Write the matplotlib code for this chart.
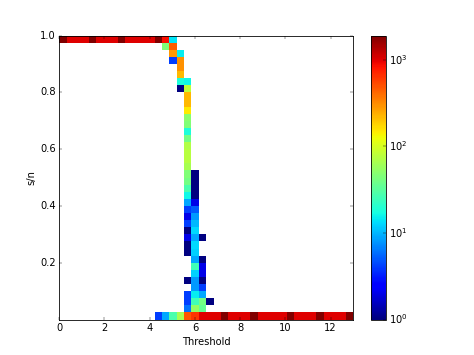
import numpy as np
import matplotlib
matplotlib.use("Agg")
import matplotlib.pyplot as plt
from matplotlib.colors import LogNorm

plt.style.use("classic")

# histogram layout: 40 threshold bins x 40 s/n bins
n_x, n_y = 40, 40
x_lo, x_hi = 0.0, 13.0
y_lo, y_hi = 0.002, 1.0

# s/n = 1 row (top bin), threshold bins 0..15
top_row = [1900, 1000, 1000, 1000, 1900, 1000, 1000, 1000,
           1900, 1000, 1000, 1000, 1000, 1900, 850, 14]

# s/n ~ 0 row (bottom bin), threshold bins 13..39
bottom_start = 13
bottom_row = [4, 9, 28, 65, 480, 620, 1000, 1000, 1000, 1900,
              1000, 1000, 1000, 1900, 1000, 1000, 1000, 1000, 1900,
              1000, 1000, 1000, 1900, 1000, 1000, 1000, 1900]

# transition columns: threshold bin -> (first s/n bin, counts going up)
col14 = (38, [45])
col15 = (36, [4, 280, 450])
col16 = (32, [1, 18, 220, 300, 300, 15])
col17 = (1, [6, 4, 4, 0, 1, 0, 0, 0, 1, 1, 2, 1, 4, 2, 4, 9, 16, 28,
             40, 45, 65, 75, 75, 70, 40, 18, 45, 50, 150, 220, 220, 80, 16])
col18 = (1, [55, 25, 15, 8, 8, 12, 25, 9, 12, 13, 9, 13, 10, 8, 5, 2,
             1, 1, 1, 1])
col19 = (1, [35, 40, 9, 4, 1, 2, 2, 1, 0, 0, 1])
col20 = (2, [1])

columns = {14: col14, 15: col15, 16: col16, 17: col17,
           18: col18, 19: col19, 20: col20}

counts = np.zeros((n_y, n_x))
counts[n_y - 1, :len(top_row)] = top_row
counts[0, bottom_start:bottom_start + len(bottom_row)] = bottom_row
for c, (r0, vals) in columns.items():
    counts[r0:r0 + len(vals), c] = vals

x_edges = np.linspace(x_lo, x_hi, n_x + 1)
y_edges = np.linspace(y_lo, y_hi, n_y + 1)

fig = plt.figure(figsize=(8, 355 / 59.25), dpi=59.25)
mesh = plt.pcolormesh(x_edges, y_edges, np.ma.masked_equal(counts, 0),
                      cmap="jet", norm=LogNorm())
plt.xlim(x_lo, x_hi)
plt.ylim(y_lo, y_hi)
plt.xlabel("Threshold")
plt.ylabel("s/n")
cb = plt.colorbar(mesh)
cb.ax.minorticks_off()

fig.savefig("out.png", dpi=59.25)
